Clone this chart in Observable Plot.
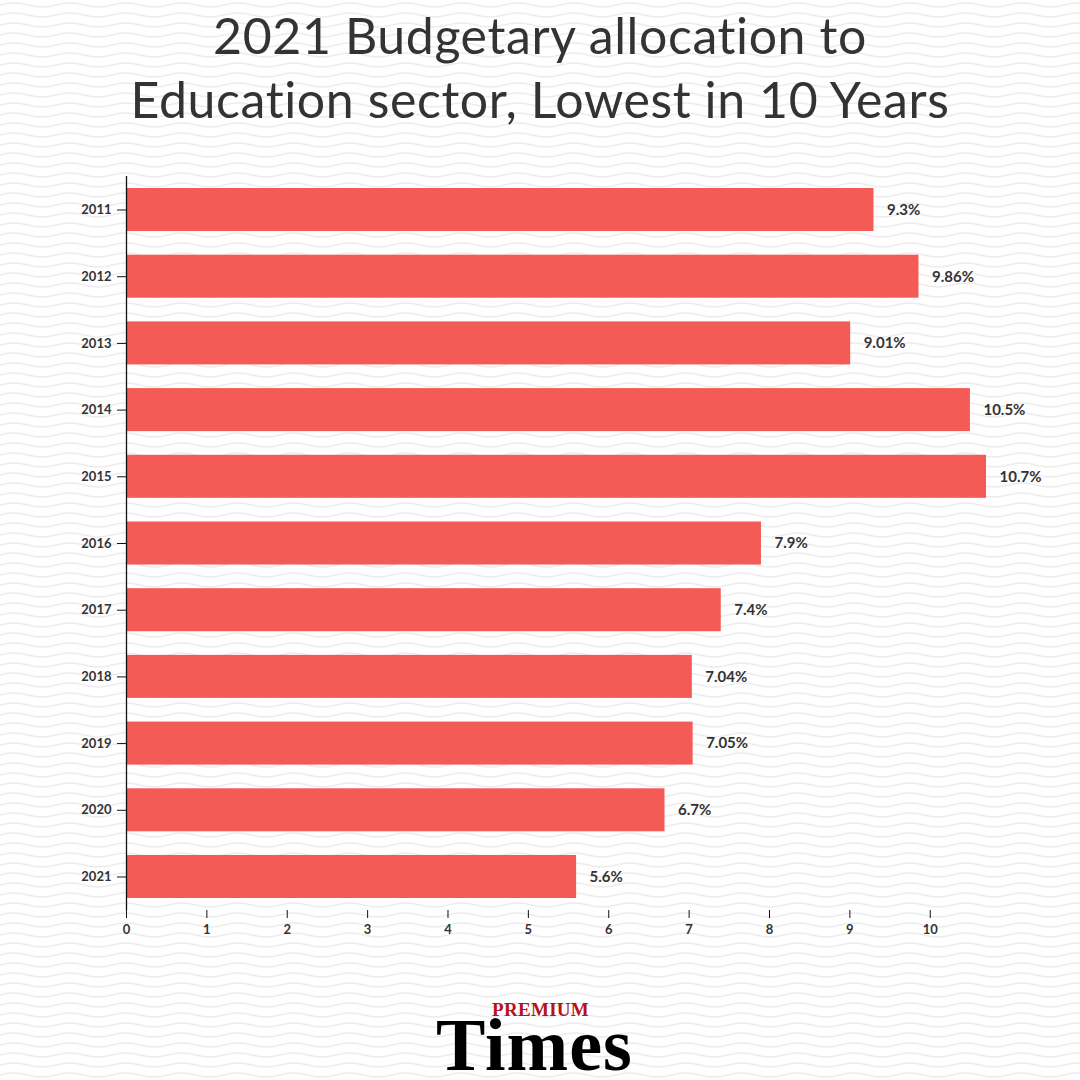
<!DOCTYPE html>
<html>
<head>
<meta charset="utf-8">
<script src="https://cdn.jsdelivr.net/npm/d3@7"></script>
<script src="https://cdn.jsdelivr.net/npm/@observablehq/plot@0.6"></script>
<style>
  html, body { margin: 0; padding: 0; }
  body {
    width: 1080px; height: 1080px; position: relative; overflow: hidden;
    background-color: #ffffff;
    background-image: url("data:image/svg+xml,%3Csvg xmlns='http://www.w3.org/2000/svg' width='56' height='10'%3E%3Cpath d='M0 5 Q14 1 28 5 T56 5' fill='none' stroke='%23ececec' stroke-width='1.6'/%3E%3C/svg%3E");
    background-size: 56px 10px;
  }
  #title {
    position: absolute; left: 0; top: 3px; width: 1080px; text-align: center;
    font-family: Lato, sans-serif; font-size: 50px; line-height: 64px; color: #333333;
    letter-spacing: 0.6px;
  }
  #chart { position: absolute; left: 0; top: 150px; }
  #chart svg { background: transparent; }
  #chart svg g[aria-label="y-axis tick label"] text,
  #chart svg g[aria-label="x-axis tick label"] text { font-size: 13px; font-weight: bold; }
  #logo { position: absolute; left: 0; top: 1000px; width: 1080px; height: 80px; }
  #logo .premium {
    position: absolute; left: 492px; top: 1px; font-family: "Liberation Serif", serif;
    font-weight: bold; font-size: 19px; line-height: 18px; color: #b5121b; letter-spacing: 0.3px;
  }
  #logo .times {
    position: absolute; left: 436px; top: 19px; font-family: "Liberation Serif", serif;
    font-weight: bold; font-size: 74px; color: #000; line-height: 52px; letter-spacing: 1px;
  }
</style>
</head>
<body>
<div id="title">2021 Budgetary allocation to<br>Education sector, Lowest in 10 Years</div>
<div id="chart"></div>
<div id="logo"><span class="times">Times</span><span class="premium">PREMIUM</span></div>
<script>
const years = ["2011","2012","2013","2014","2015","2016","2017","2018","2019","2020","2021"];
const values = [9.3, 9.86, 9.01, 10.5, 10.7, 7.9, 7.4, 7.04, 7.05, 6.7, 5.6];
const valueLabels = ["9.3%","9.86%","9.01%","10.5%","10.7%","7.9%","7.4%","7.04%","7.05%","6.7%","5.6%"];
const xTicks = [0,1,2,3,4,5,6,7,8,9,10];

const data = years.map((y, i) => ({year: y, value: values[i], label: valueLabels[i]}));

const chart = Plot.plot({
  width: 1080,
  height: 830,
  marginLeft: 126,
  marginRight: 94,
  marginTop: 26,
  marginBottom: 70,
  style: {background: "transparent", fontFamily: "Lato, sans-serif", color: "#333333"},
  x: {domain: [0, 10.7], label: null},
  y: {domain: years, label: null, paddingInner: 0.355, paddingOuter: 0.18, round: false},
  marks: [
    Plot.barX(data, {x: "value", y: "year", fill: "#F45B56"}),
    Plot.text(data, {x: "value", y: "year", text: "label", textAnchor: "start", dx: 13,
      fontSize: 15, fontWeight: "bold", fill: "#333333"}),
    Plot.ruleX([0], {stroke: "#111111", strokeWidth: 1.3}),
    Plot.axisY({tickSize: 9, tickPadding: 6, fontSize: 13, fontWeight: "bold",
      stroke: "#111111", fill: "#333333", label: null}),
    Plot.axisX({ticks: xTicks, tickFormat: d => String(d), tickSize: 8, tickPadding: 6,
      fontSize: 13, fontWeight: "bold", line: true, stroke: "#111111", fill: "#333333", label: null})
  ]
});
document.getElementById("chart").appendChild(chart);
</script>
</body>
</html>
